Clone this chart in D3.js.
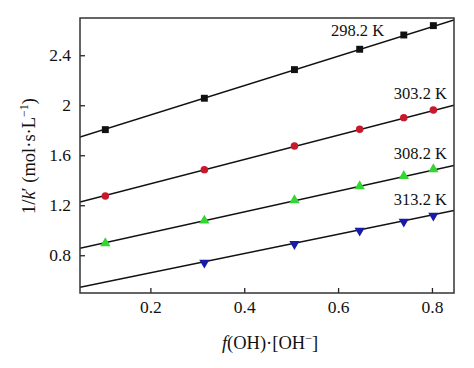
<!DOCTYPE html>
<html><head><meta charset="utf-8">
<script src="https://cdn.jsdelivr.net/npm/d3@7"></script>
<style>body{margin:0;background:#fff}svg{display:block}</style>
</head><body>
<script>
const xValues = [0.104, 0.315, 0.507, 0.646, 0.740, 0.803];
const temps = ["298.2 K", "303.2 K", "308.2 K", "313.2 K"];
const y298 = [1.805, 2.056, 2.285, 2.448, 2.562, 2.637];
const y303 = [1.274, 1.485, 1.674, 1.808, 1.901, 1.962];
const y308 = [0.896, 1.077, 1.240, 1.352, 1.434, 1.488];
const y313 = [null, 0.741, 0.890, 0.997, 1.069, 1.117];
const slopes = [1.174, 0.971, 0.829, 0.769];
const intercepts = [1.687, 1.177, 0.815, 0.506];
const xTicks = [0.2, 0.4, 0.6, 0.8];
const yTicks = [0.8, 1.2, 1.6, 2.0, 2.4];
const labelPos = [[0.698, 2.554], [0.832, 2.052], [0.832, 1.570], [0.832, 1.204]];

const FONT = "'Liberation Serif', 'Times New Roman', Times, serif";
const W = 474, H = 368;
const svg = d3.select("body").append("svg").attr("width", W).attr("height", H);
const x = d3.scaleLinear().domain([0.05, 0.847]).range([80, 454]);
const y = d3.scaleLinear().domain([0.498, 2.698]).range([293, 18]);

const series = [y298, y303, y308, y313];
const colors = ["#111111", "#c8182c", "#33d633", "#1a1aa8"];
const shapes = [d3.symbolSquare, d3.symbolCircle, d3.symbolTriangle, d3.symbolTriangle];
const sizes = [48, 44, 46, 46];

svg.append("defs").append("clipPath").attr("id", "c").append("rect")
  .attr("x", 80).attr("y", 18).attr("width", 374).attr("height", 275);

const g = svg.append("g").attr("clip-path", "url(#c)");
series.forEach((s, i) => {
  const d0 = x.domain();
  g.append("line")
    .attr("x1", x(d0[0])).attr("y1", y(intercepts[i] + slopes[i] * d0[0]))
    .attr("x2", x(d0[1])).attr("y2", y(intercepts[i] + slopes[i] * d0[1]))
    .attr("stroke", "#111").attr("stroke-width", 1.5);
});
series.forEach((s, i) => {
  s.forEach((v, j) => {
    if (v == null) return;
    g.append("path")
      .attr("d", d3.symbol().type(shapes[i]).size(sizes[i])())
      .attr("transform", `translate(${x(xValues[j])},${y(v)})` + (i === 3 ? " rotate(180)" : ""))
      .attr("fill", colors[i]);
  });
});

// axes
const xa = svg.append("g").attr("transform", "translate(0,293)")
  .call(d3.axisBottom(x).tickValues(xTicks).tickSize(-5).tickPadding(8).tickFormat(d3.format(".1f")));
const ya = svg.append("g").attr("transform", "translate(80,0)")
  .call(d3.axisLeft(y).tickValues(yTicks).tickSize(-5).tickPadding(9).tickFormat(d => d === 2 ? "2" : d3.format(".1f")(d)));
[xa, ya].forEach(a => {
  a.attr("font-family", null).attr("font-size", null);
  a.select(".domain").remove();
  a.selectAll("line").attr("stroke", "#222").attr("stroke-width", 1.3);
  a.selectAll("text").style("font-family", FONT).style("font-size", "17.5px").attr("fill", "#111");
});
svg.append("rect").attr("x", 80).attr("y", 18).attr("width", 374).attr("height", 275)
  .attr("fill", "none").attr("stroke", "#333").attr("stroke-width", 1.5);

// series labels
temps.forEach((t, i) => {
  svg.append("text").attr("x", x(labelPos[i][0])).attr("y", y(labelPos[i][1]))
    .attr("text-anchor", "end").style("font-family", FONT).style("font-size", "16.5px").attr("fill", "#111").text(t);
});

// axis titles
const xt = svg.append("text").attr("x", 270).attr("y", 349).attr("text-anchor", "middle")
  .style("font-family", FONT).style("font-size", "18.5px").attr("fill", "#111");
xt.append("tspan").attr("font-style", "italic").text("f");
xt.append("tspan").text("(OH)·[OH");
xt.append("tspan").attr("dy", -7).style("font-size", "12px").text("−");
xt.append("tspan").attr("dy", 7).text("]");

const yt = svg.append("text").attr("transform", "translate(35,156) rotate(-90)").attr("text-anchor", "middle")
  .style("font-family", FONT).style("font-size", "18.5px").attr("fill", "#111");
yt.append("tspan").text("1/");
yt.append("tspan").attr("font-style", "italic").text("k");
yt.append("tspan").text("′ (mol·s·L");
yt.append("tspan").attr("dy", -7).style("font-size", "12px").text("−1");
yt.append("tspan").attr("dy", 7).text(")");
</script>
</body></html>
